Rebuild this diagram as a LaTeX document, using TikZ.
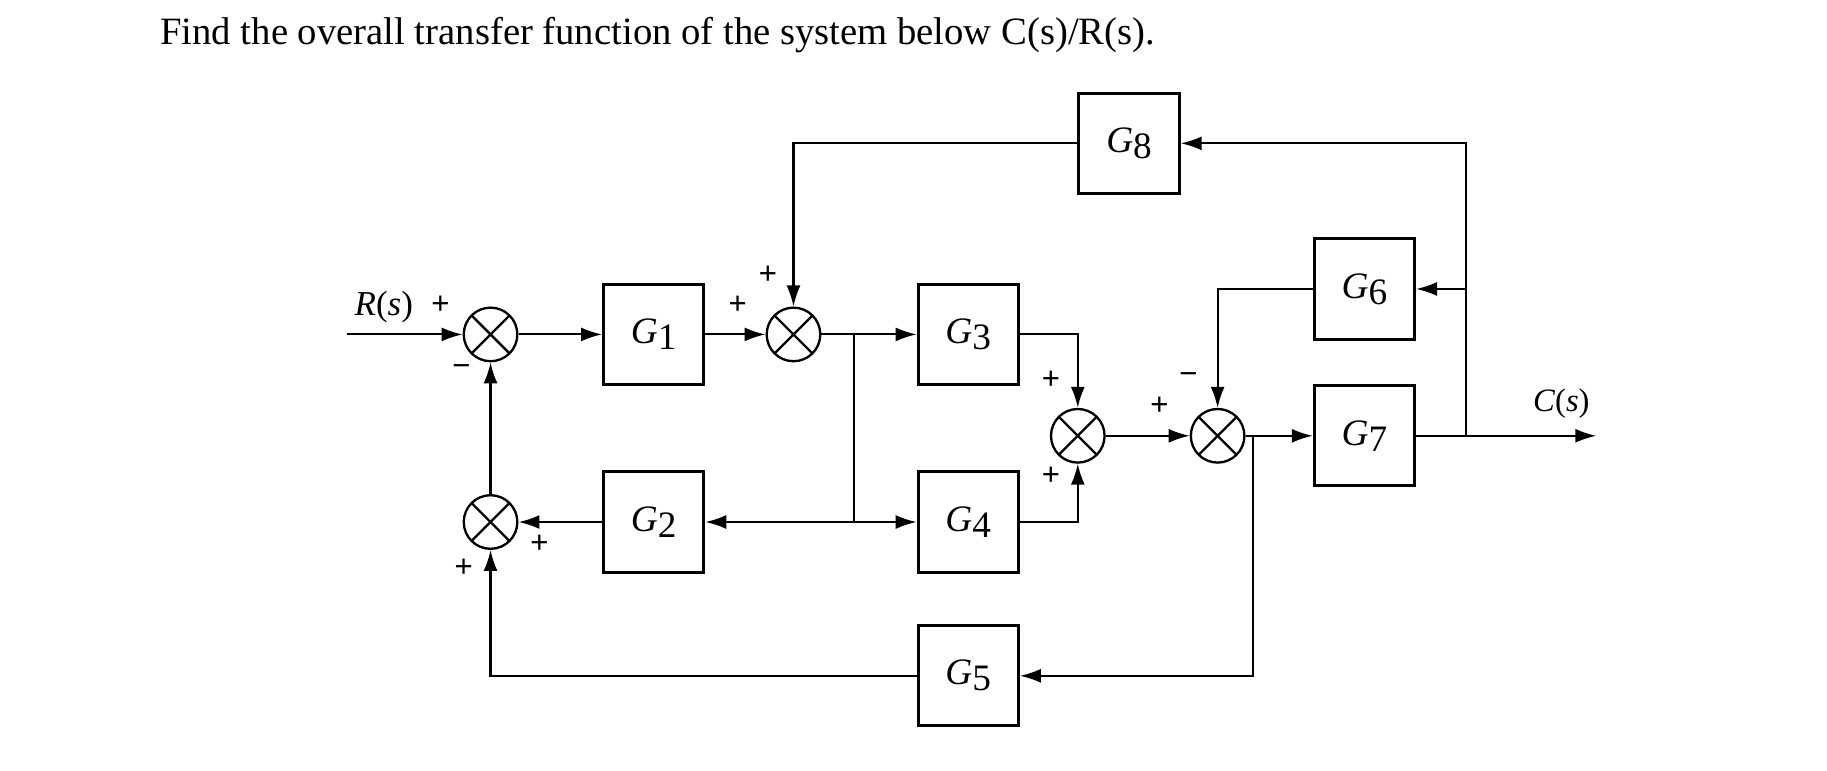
\documentclass[tikz,border=0pt]{standalone}
\usepackage{fontspec}
\setmainfont{Liberation Serif}
\usetikzlibrary{arrows.meta}
\begin{document}
\begin{tikzpicture}[x=0.5pt,y=-0.5pt,line width=0.9pt,
  blk/.style={draw,line width=1.3pt,minimum width=43pt,minimum height=43pt,inner sep=0pt,font=\fontsize{16}{16}\selectfont\itshape},
  sum/.style={draw,circle,minimum size=23pt,inner sep=0pt,line width=1pt,
    path picture={\draw (path picture bounding box.south west)--(path picture bounding box.north east)
      (path picture bounding box.north west)--(path picture bounding box.south east);}},
  ar/.style={-{Latex[length=9pt,width=6pt]}},
  sg/.style={font=\fontsize{14}{14}\selectfont\bfseries,inner sep=0pt}]
\useasboundingbox (0,0) rectangle (1568,661);
\node[anchor=base west,font=\fontsize{16.6}{16.6}\selectfont] (title) at (130,38) {Find the overall transfer function of the system below C(s)/R(s).};
\node[sum] (s1) at (421,287) {};
\node[sum] (s2) at (681,287) {};
\node[sum] (s3) at (925,374) {};
\node[sum] (s4) at (1045,374) {};
\node[sum] (s5) at (421,448) {};
\newcommand{\gl}[1]{G\raisebox{-0.35ex}{\upshape #1}}
\node[blk] (g1) at (561,287) {\gl{1}};
\node[blk] (g3) at (831,287) {\gl{3}};
\node[blk] (g8) at (969,123) {\gl{8}};
\node[blk] (g6) at (1171,248) {\gl{6}};
\node[blk] (g7) at (1171,374) {\gl{7}};
\node[blk] (g2) at (561,448) {\gl{2}};
\node[blk] (g4) at (831,448) {\gl{4}};
\node[blk] (g5) at (831,580) {\gl{5}};
\coordinate (in) at (298,287);
\coordinate (br1) at (733,287);
\coordinate (br2) at (733,448);
\coordinate (out) at (1258,374);
\coordinate (end) at (1370,374);
\coordinate (br3) at (1075,374);
\node[anchor=base east,font=\fontsize{15}{15}\selectfont] (rl) at (362,271) {\textit{R}(\textit{s})};
\node[anchor=base,font=\fontsize{14}{14}\selectfont] (cl) at (1340,353) {\textit{C}(\textit{s})};
\draw[ar] (in)--(s1);
\draw[ar] (s1)--(g1);
\draw[ar] (g1)--(s2);
\draw[ar] (s2)--(g3);
\draw (br1)--(br2);
\draw[ar] (br2)--(g2);
\draw[ar] (br2)--(g4);
\draw[ar] (g2)--(s5);
\draw[ar] (s5)--(s1);
\draw[ar] (g3.east)-|(s3.north);
\draw[ar] (g4.east)-|(s3.south);
\draw[ar] (s3)--(s4);
\draw[ar] (s4)--(g7);
\draw[ar] (g7)--(end);
\draw[ar] (out)|-(g8.east);
\draw[ar] (g8.west)-|(s2.north);
\draw[ar] (1258,248)--(g6.east);
\draw[ar] (g6.west)-|(s4.north);
\draw[ar] (br3)|-(g5.east);
\draw[ar] (g5.west)-|(s5.south);
\node[sg] (p1) at (378,262) {+};
\node[sg] (m1) at (396,318) {\textminus};
\node[sg] (p2) at (633,262) {+};
\node[sg] (p3) at (659,236) {+};
\node[sg] (p4) at (902,326) {+};
\node[sg] (p5) at (902,409) {+};
\node[sg] (m2) at (1020,325) {\textminus};
\node[sg] (p6) at (995,349) {+};
\node[sg] (p7) at (463,467) {+};
\node[sg] (p8) at (398,488) {+};
\end{tikzpicture}
\end{document}
